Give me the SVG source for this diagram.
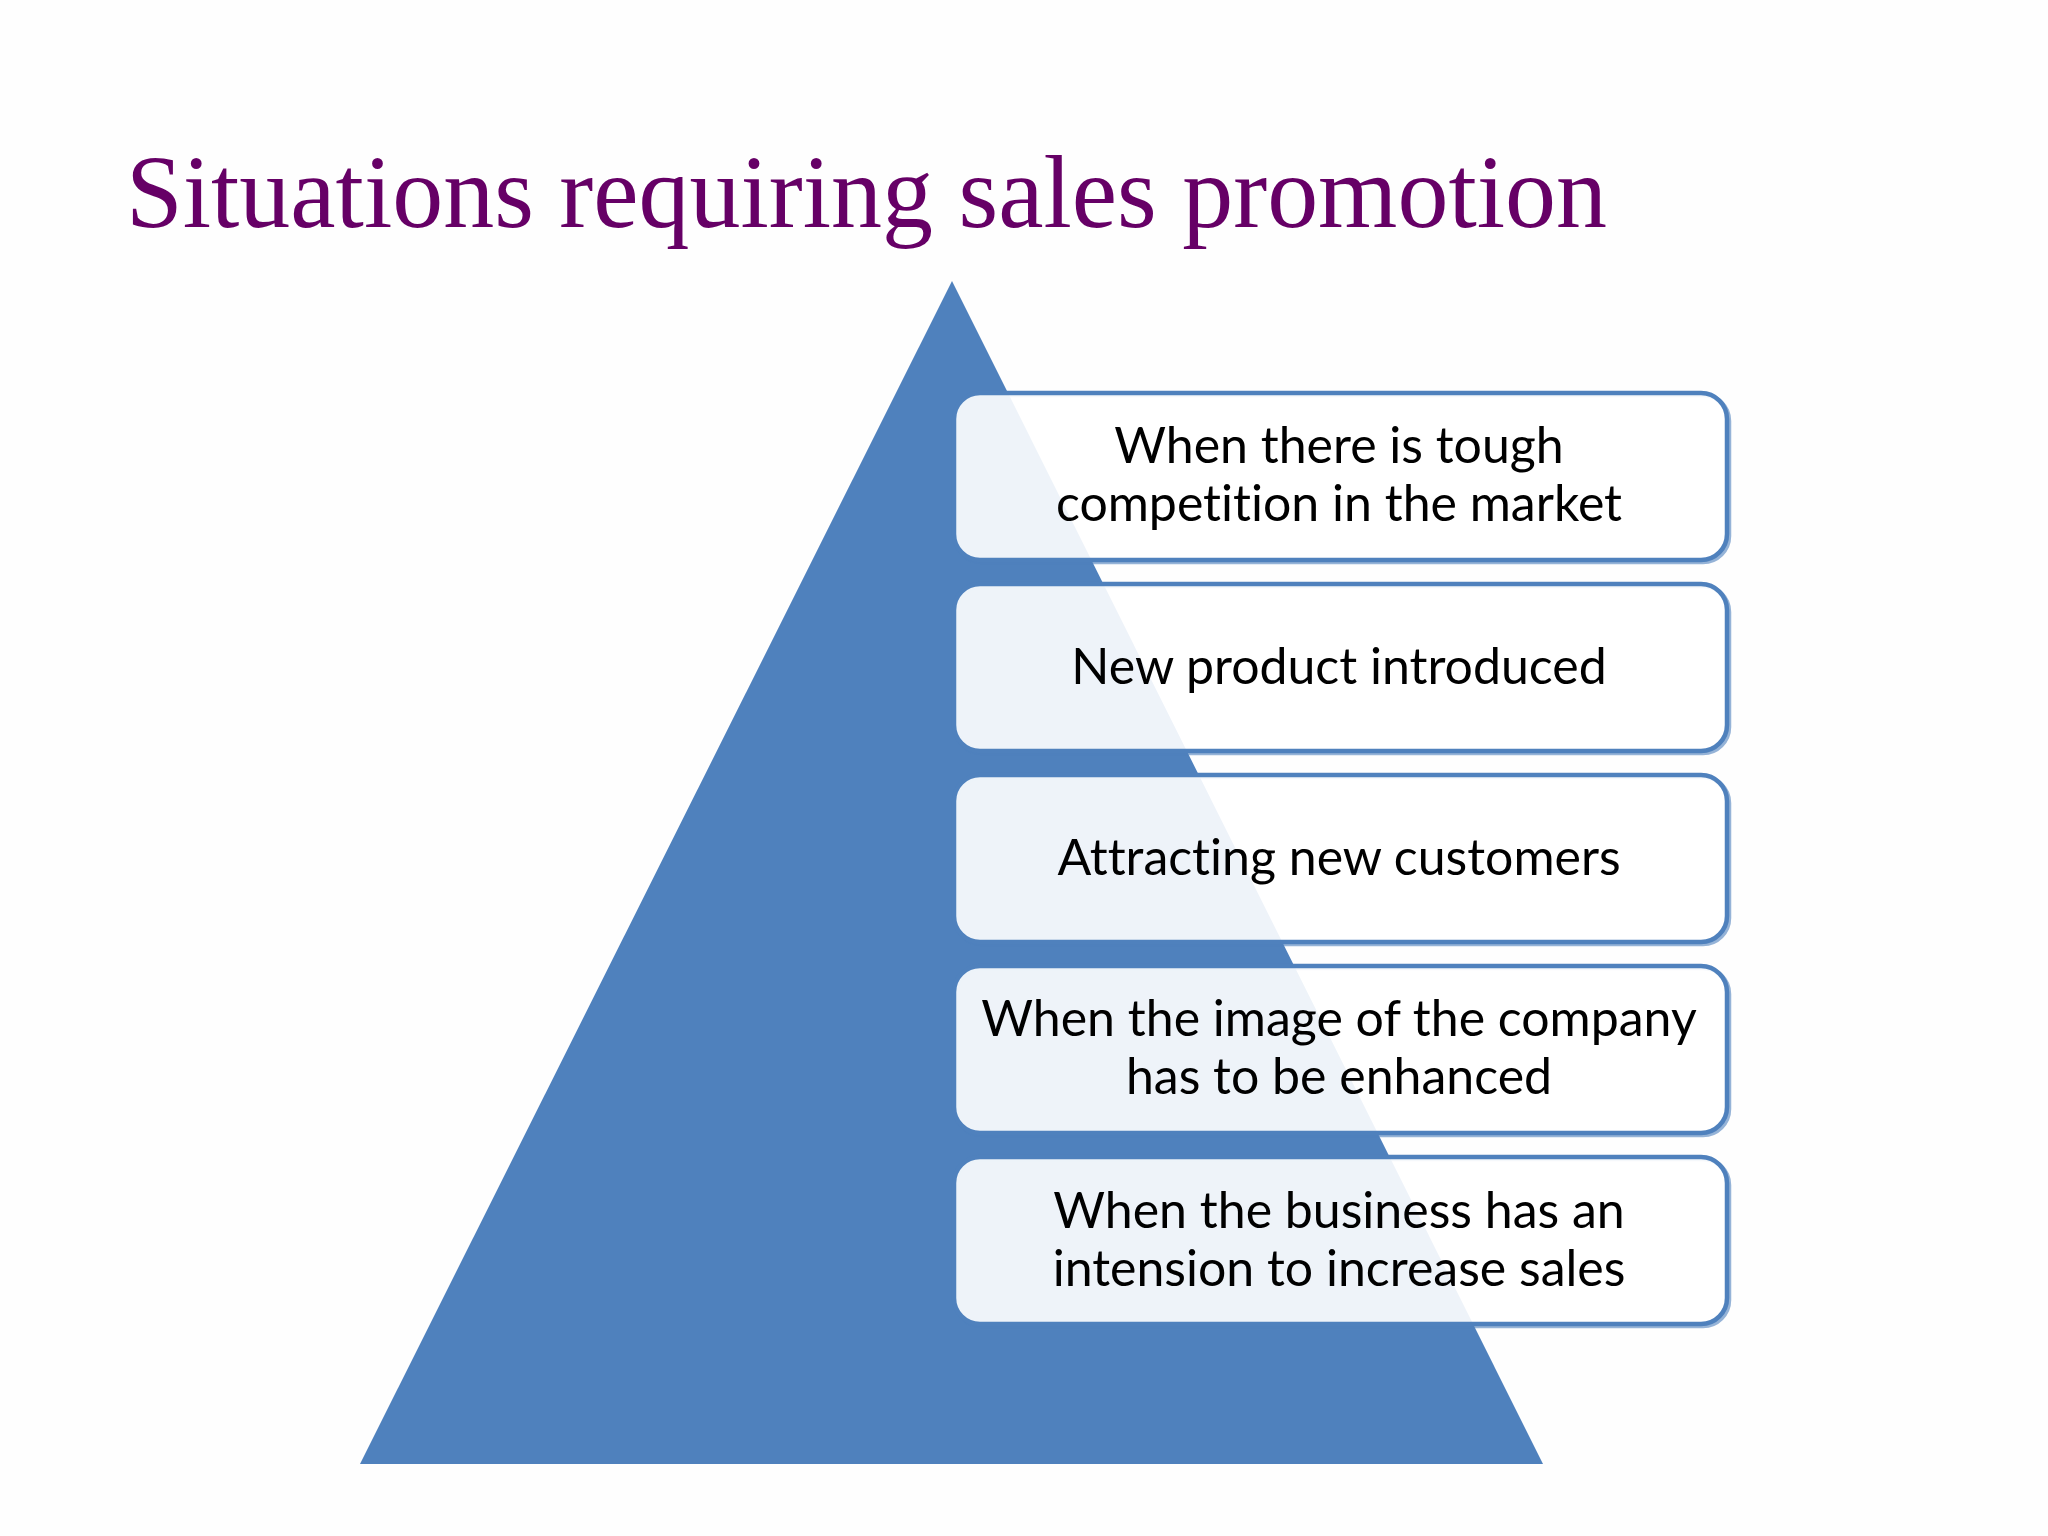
<svg xmlns="http://www.w3.org/2000/svg" width="2048" height="1536" viewBox="0 0 2048 1536">
<style>
.title{font-family:"Liberation Serif","Times New Roman",serif;font-size:104px;fill:#660066}
.box{fill:#ffffff;fill-opacity:0.9;stroke:#4F81BD;stroke-width:4.5}
.shadow{fill:none;stroke:#4F81BD;stroke-width:4.5;opacity:0.6}
.lbl{font-family:Lato,"Liberation Sans",sans-serif;font-size:50px;fill:#000000;text-anchor:middle;font-variant-ligatures:none}
</style>
<rect width="2048" height="1536" fill="#fefefe"/>
<text class="title" x="126" y="227" textLength="1481" lengthAdjust="spacingAndGlyphs">Situations requiring sales promotion</text>
<g id="pyramid">
<polygon points="952,281 1543,1464 360,1464" fill="#4F81BD"/>
</g>
<g id="node1">
<rect class="shadow" x="956" y="395" width="773" height="167" rx="26"/>
<rect class="box" x="954" y="393" width="773" height="167" rx="26"/>
<text class="lbl" x="1339" y="463">When there is tough</text>
<text class="lbl" x="1339" y="521">competition in the market</text>
</g>
<g id="node2">
<rect class="shadow" x="956" y="586" width="773" height="167" rx="26"/>
<rect class="box" x="954" y="584" width="773" height="167" rx="26"/>
<text class="lbl" x="1339" y="684">New product introduced</text>
</g>
<g id="node3">
<rect class="shadow" x="956" y="777" width="773" height="167" rx="26"/>
<rect class="box" x="954" y="775" width="773" height="167" rx="26"/>
<text class="lbl" x="1339" y="875">Attracting new customers</text>
</g>
<g id="node4">
<rect class="shadow" x="956" y="968" width="773" height="167" rx="26"/>
<rect class="box" x="954" y="966" width="773" height="167" rx="26"/>
<text class="lbl" x="1339" y="1036">When the image of the company</text>
<text class="lbl" x="1339" y="1094">has to be enhanced</text>
</g>
<g id="node5">
<rect class="shadow" x="956" y="1159" width="773" height="167" rx="26"/>
<rect class="box" x="954" y="1157" width="773" height="167" rx="26"/>
<text class="lbl" x="1339" y="1228">When the business has an</text>
<text class="lbl" x="1339" y="1286">intension to increase sales</text>
</g>
<g id="connectors"></g>
</svg>
